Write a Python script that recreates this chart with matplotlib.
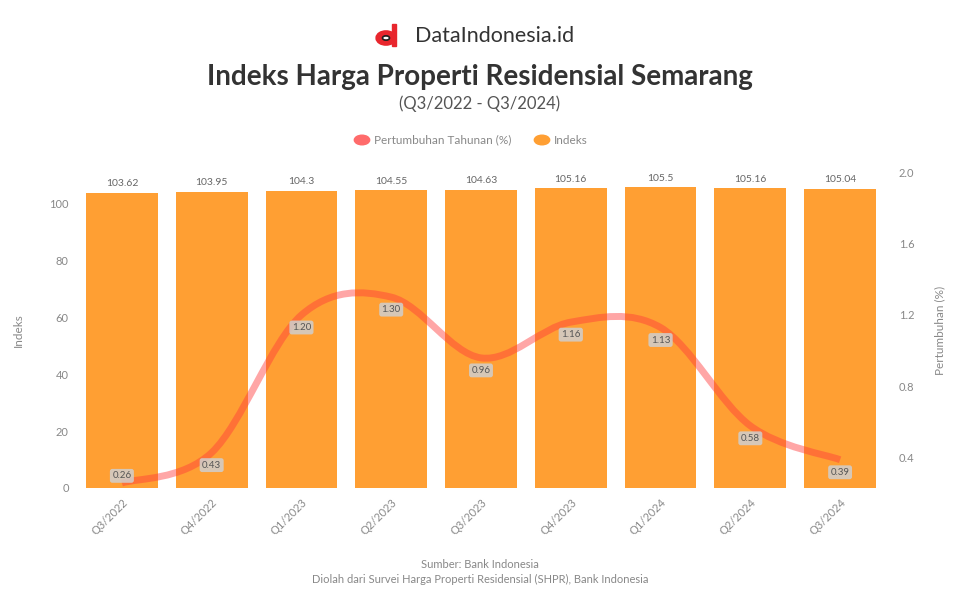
import numpy as np
import matplotlib; matplotlib.use("Agg")
import matplotlib.pyplot as plt
from matplotlib.path import Path
from matplotlib.patches import PathPatch, Circle, Rectangle

plt.rcParams['font.family'] = ['Lato', 'DejaVu Sans']

periods = ["Q3/2022", "Q4/2022", "Q1/2023", "Q2/2023", "Q3/2023",
           "Q4/2023", "Q1/2024", "Q2/2024", "Q3/2024"]
indeks = [103.62, 103.95, 104.3, 104.55, 104.63, 105.16, 105.5, 105.16, 105.04]
growth = [0.26, 0.43, 1.20, 1.30, 0.96, 1.16, 1.13, 0.58, 0.39]
left_ticks = [0, 20, 40, 60, 80, 100]
right_ticks = [0.4, 0.8, 1.2, 1.6, 2.0]

ORANGE = "#FF9F33"; RED = "#FF3B3B"; GREY = "#888888"; DARK = "#333333"

fig = plt.figure(figsize=(9.6, 6), dpi=100)
ax = fig.add_axes([77/960, 1-488/600, 808/960, 316/600])
ax2 = ax.twinx()

x = np.arange(len(periods))
ax.bar(x, indeks, width=0.8, color=ORANGE, zorder=2)
for xi, v in zip(x, indeks):
    ax.text(xi, v + 1.6, f"{v:g}", ha="center", va="bottom", fontsize=7.5, color="#666666")
ax.set_xlim(-0.5, 8.5)
ax.set_ylim(0, 110.9)
ax.set_yticks(left_ticks)
ax.set_xticks(x)
ax.set_xticklabels(periods, rotation=45, ha="right", rotation_mode="anchor", fontsize=8, color=GREY)
ax.tick_params(axis="both", length=0, labelsize=8, colors=GREY, pad=6)
ax.set_ylabel("Indeks", fontsize=8.5, color=GREY, labelpad=18)
for s in ax.spines.values(): s.set_visible(False)
for s in ax2.spines.values(): s.set_visible(False)

# smooth line (cubic bezier through the data points)
ax2.set_ylim(0.232, 2.0)
pts = np.column_stack([x, growth]).astype(float)
verts = [tuple(pts[0])]; codes = [Path.MOVETO]
for i in range(len(pts) - 1):
    p0 = pts[max(i-1, 0)]; p1 = pts[i]; p2 = pts[i+1]; p3 = pts[min(i+2, len(pts)-1)]
    c1 = p1 + (p2 - p0) / 6.0; c2 = p2 - (p3 - p1) / 6.0
    verts += [tuple(c1), tuple(c2), tuple(p2)]; codes += [Path.CURVE4]*3
ax2.add_patch(PathPatch(Path(verts, codes), fill=False, edgecolor=RED, lw=5, alpha=0.45, zorder=3))
for i, (xi, g) in enumerate(zip(x, growth)):
    dy = 0.04 if i == 0 else -0.07
    ax2.text(xi, g + dy, f"{g:.2f}", ha="center", va="center", fontsize=7, color="#555555", zorder=4,
             bbox=dict(boxstyle="round,pad=0.25", fc="#cfcfcf", ec="none", alpha=0.85))
ax2.set_yticks(right_ticks)
ax2.tick_params(axis="y", length=0, labelsize=8, colors=GREY, pad=10)
ax2.set_ylabel("Pertumbuhan (%)", fontsize=8.5, color=GREY, labelpad=14)

# header logo: red "d" with a small magnifier
tf = fig.transFigure
fig.add_artist(Circle((386/960, 1-38/600), 7.5/960, transform=tf, fill=False, ec="#E8262D", lw=4.5))
fig.add_artist(Rectangle((392/960, 1-46/600), 4/960, 22/600, transform=tf, color="#E8262D"))
fig.add_artist(Circle((386/960, 1-38/600), 3.5/960, transform=tf, fill=False, ec="#222222", lw=1.2))
fig.text(415/960, 1-36/600, "DataIndonesia.id", fontsize=15.5, color=DARK, ha="left", va="center")
fig.text(0.5, 1-77/600, "Indeks Harga Properti Residensial Semarang", fontsize=20, fontweight="bold",
         color=DARK, ha="center", va="center")
fig.text(0.5, 1-104/600, "(Q3/2022 - Q3/2024)", fontsize=12, color="#555555", ha="center", va="center")

# legend
fig.add_artist(Circle((362/960, 1-140/600), 0.008, transform=tf, color="#FF6B6B"))
fig.text(374/960, 1-140/600, "Pertumbuhan Tahunan (%)", fontsize=8.5, color=GREY, ha="left", va="center")
fig.add_artist(Circle((542/960, 1-140/600), 0.008, transform=tf, color=ORANGE))
fig.text(554/960, 1-140/600, "Indeks", fontsize=8.5, color=GREY, ha="left", va="center")

# footer
fig.text(0.5, 1-564/600, "Sumber: Bank Indonesia", fontsize=8, color=GREY, ha="center", va="center")
fig.text(0.5, 1-579/600, "Diolah dari Survei Harga Properti Residensial (SHPR), Bank Indonesia", fontsize=8,
         color=GREY, ha="center", va="center")

fig.savefig("out.png", dpi=100)
